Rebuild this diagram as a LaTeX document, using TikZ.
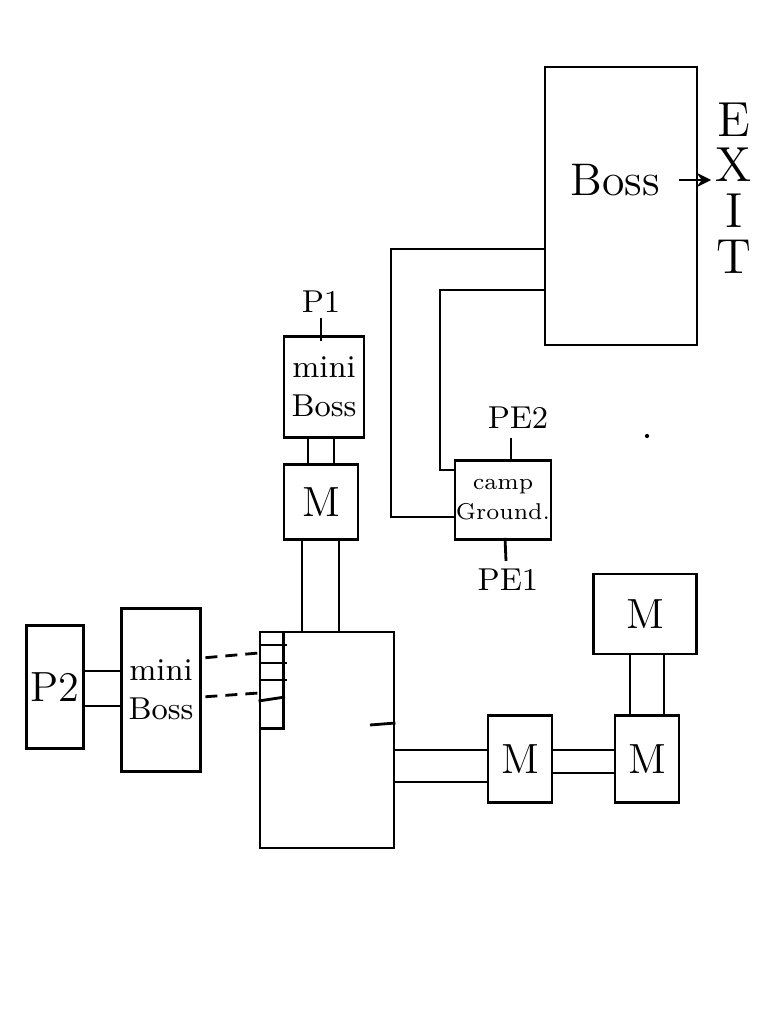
\documentclass[tikz,border=0pt]{standalone}
\usetikzlibrary{arrows.meta}

\begin{document}
\begin{tikzpicture}[x=0.01cm, y=-0.01cm, >=stealth, line width=0.8pt,
    blk/.style={draw, inner sep=0pt},
    lbl/.style={font=\normalsize, align=center, inner sep=1pt}]

\useasboundingbox (0,0) rectangle (768,1024);

% boss and exit
\node[blk, minimum width=1.52cm, minimum height=2.78cm] (boss) at (621,206) {};
\node[lbl, font=\fontsize{13}{15}\selectfont] (bossTxt) at (615,180) {Boss};
\node[lbl, font=\fontsize{14}{13}\selectfont] (exit) at (734,188) {E\\X\\I\\T};
\draw[->] (bossTxt.east) ++(14,0) -- (exit.west |- bossTxt.east);

% camp ground
\node[blk, lbl, inner sep=0pt, minimum width=0.96cm, minimum height=0.79cm, font=\fontsize{6.5}{8.5}\selectfont] (camp) at (503,500) {camp\\Ground.};
\node[lbl, font=\small] (pe2) at (518,418) {PE2};
\node[lbl, font=\small] (pe1) at (508,580) {PE1};
\draw (camp.north) ++(8,0) -- ++(0,-21);
\draw (camp.south) ++(2,-3) -- ++(1,23);

\draw (boss.west |- 0,249) -| (391,517) -- (camp.west |- 0,517);
\draw (boss.west |- 0,290) -| (440,470) -- (camp.west |- 0,470);

\fill (647,436) circle (0.6pt);

% top mini boss and M
\node[blk, lbl, minimum width=0.80cm, minimum height=1.01cm, font=\small] (mb1) at (324,387) {mini\\Boss};
\node[lbl, font=\small] (p1) at (321,302) {P1};
\draw (p1.south) -- (mb1.north -| p1.south) -- ++(0,6);
\node[blk, lbl, minimum width=0.74cm, minimum height=0.75cm, font=\large] (m1) at (321,502) {M};
\draw (mb1.south -| 308,0) -- (m1.north -| 308,0);
\draw (mb1.south -| 334,0) -- (m1.north -| 334,0);

% hub
\node[blk, minimum width=1.34cm, minimum height=2.16cm] (hub) at (327,740) {};
\draw (m1.south -| 302,0) -- (hub.north -| 302,0);
\draw (m1.south -| 339,0) -- (hub.north -| 339,0);
\draw (hub.north west) ++(25,0) -- ++(0,98) -- ++(-25,0);
\foreach \y in {645,663,680}
    \draw (hub.west |- 0,\y) -- (287,\y);
\draw (hub.west |- 0,701) -- (285,697);
\draw (370,725) -- (hub.east |- 0,723);

% left mini boss and P2
\node[blk, lbl, minimum width=0.79cm, minimum height=1.63cm, font=\small] (mb2) at (161,690) {mini\\Boss};
\node[blk, lbl, minimum width=0.57cm, minimum height=1.23cm, font=\large] (p2) at (55,687) {P2};
\draw (p2.east |- 0,671) -- (mb2.west |- 0,671);
\draw (p2.east |- 0,706) -- (mb2.west |- 0,706);
\draw[dashed, dash pattern=on 0.12cm off 0.08cm, shorten <=1pt]
    (mb2.east |- 0,658) -- (hub.west |- 0,653);
\draw[dashed, dash pattern=on 0.12cm off 0.08cm, shorten <=1pt]
    (mb2.east |- 0,697) -- (hub.west |- 0,693);

% motor chain on the right
\node[blk, lbl, minimum width=0.64cm, minimum height=0.87cm, font=\large] (mA) at (520,759) {M};
\node[blk, lbl, minimum width=0.64cm, minimum height=0.87cm, font=\large] (mB) at (647,759) {M};
\node[blk, lbl, minimum width=1.03cm, minimum height=0.80cm, font=\large] (mC) at (645,614) {M};
\draw (hub.east |- 0,750) -- (mA.west |- 0,750);
\draw (hub.east |- 0,782) -- (mA.west |- 0,782);
\draw (mA.east |- 0,750) -- (mB.west |- 0,750);
\draw (mA.east |- 0,773) -- (mB.west |- 0,773);
\draw (mC.south -| 630,0) -- (mB.north -| 630,0);
\draw (mC.south -| 664,0) -- (mB.north -| 664,0);

\end{tikzpicture}
\end{document}
